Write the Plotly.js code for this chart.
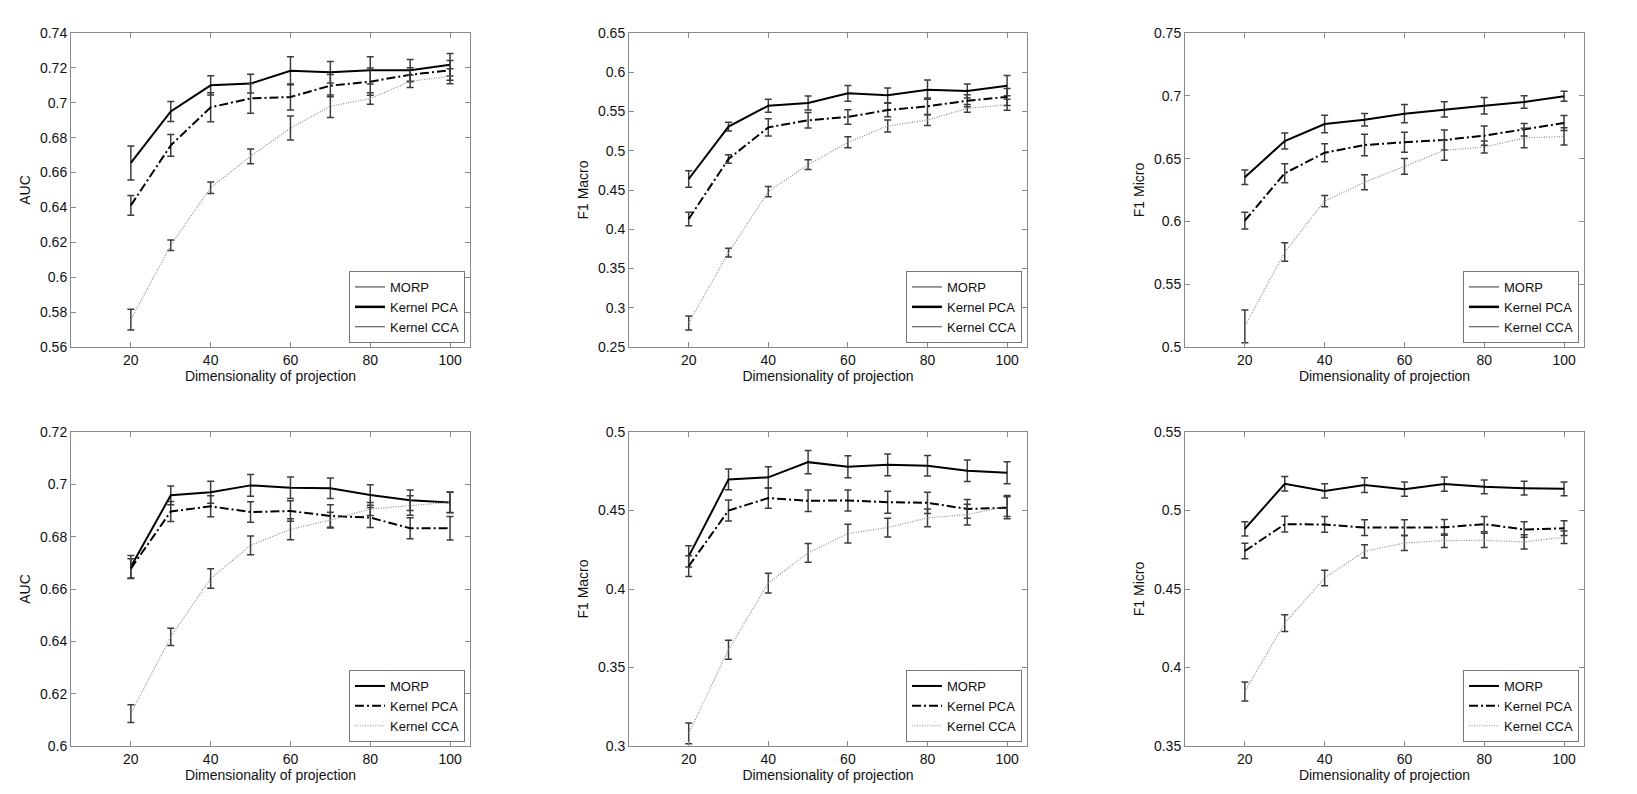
<!DOCTYPE html>
<html>
<head>
<meta charset="utf-8">
<script src="https://cdn.plot.ly/plotly-3.0.1.min.js"></script>
<style>
  html, body { margin: 0; padding: 0; background: #fff; }
  #chart { width: 1637px; height: 794px; }
</style>
</head>
<body>
<div id="chart"></div>
<script>
// x values shared by every panel
var dims = [20, 30, 40, 50, 60, 70, 80, 90, 100];
var methods = ['MORP', 'Kernel PCA', 'Kernel CCA'];

// panel 1 - AUC (top)
var p1Morp = [0.6655, 0.695, 0.710, 0.711, 0.7184, 0.7175, 0.7186, 0.7186, 0.7218];
var p1MorpErr = [0.0097, 0.0057, 0.0055, 0.0054, 0.008, 0.0062, 0.0078, 0.0062, 0.0064];
var p1Pca = [0.6412, 0.6756, 0.6974, 0.7025, 0.7033, 0.7098, 0.7121, 0.7161, 0.7186];
var p1PcaErr = [0.0057, 0.0062, 0.0083, 0.0085, 0.0074, 0.0064, 0.0078, 0.004, 0.0057];
var p1Cca = [0.5757, 0.6183, 0.6513, 0.6693, 0.6855, 0.698, 0.7024, 0.7123, 0.7152];
var p1CcaErr = [0.006, 0.003, 0.0033, 0.0042, 0.0069, 0.0064, 0.0033, 0.0036, 0.0043];

// panel 2 - F1 Macro (top)
var p2Morp = [0.464, 0.5307, 0.5574, 0.5608, 0.5731, 0.5706, 0.5778, 0.5761, 0.5829];
var p2MorpErr = [0.0106, 0.0055, 0.0083, 0.009, 0.01, 0.0093, 0.0123, 0.009, 0.0129];
var p2Pca = [0.4131, 0.4895, 0.5298, 0.5388, 0.543, 0.5519, 0.5566, 0.5638, 0.5685];
var p2PcaErr = [0.0085, 0.0053, 0.011, 0.0098, 0.0091, 0.0087, 0.0106, 0.0076, 0.0108];
var p2Cca = [0.2806, 0.3702, 0.4479, 0.4823, 0.5107, 0.5315, 0.5392, 0.554, 0.5587];
var p2CcaErr = [0.009, 0.0055, 0.0064, 0.0062, 0.007, 0.0076, 0.007, 0.005, 0.007];

// panel 3 - F1 Micro (top)
var p3Morp = [0.6351, 0.664, 0.6775, 0.681, 0.6858, 0.6892, 0.6921, 0.6951, 0.6996];
var p3MorpErr = [0.0058, 0.0064, 0.007, 0.005, 0.0072, 0.006, 0.0066, 0.005, 0.004];
var p3Pca = [0.6006, 0.6383, 0.6547, 0.6608, 0.663, 0.6648, 0.6683, 0.673, 0.6783];
var p3PcaErr = [0.0066, 0.0076, 0.0072, 0.0085, 0.008, 0.008, 0.0077, 0.005, 0.006];
var p3Cca = [0.5164, 0.5756, 0.6162, 0.6311, 0.6438, 0.6566, 0.6592, 0.6664, 0.6677];
var p3CcaErr = [0.013, 0.0074, 0.0045, 0.006, 0.0062, 0.008, 0.0048, 0.0077, 0.0068];

// panel 4 - AUC (bottom)
var p4Morp = [0.6685, 0.6958, 0.697, 0.6996, 0.6987, 0.6985, 0.6959, 0.6939, 0.6931];
var p4MorpErr = [0.0043, 0.0036, 0.0042, 0.0042, 0.0041, 0.0039, 0.0039, 0.0039, 0.0039];
var p4Pca = [0.6678, 0.6896, 0.6916, 0.6894, 0.6898, 0.6879, 0.6873, 0.6832, 0.6832];
var p4PcaErr = [0.0038, 0.0038, 0.004, 0.0039, 0.0039, 0.0043, 0.0038, 0.004, 0.0045];
var p4Cca = [0.6124, 0.6417, 0.664, 0.6767, 0.6828, 0.6863, 0.6906, 0.6919, 0.6931];
var p4CcaErr = [0.0034, 0.0033, 0.0037, 0.0036, 0.004, 0.003, 0.0025, 0.0037, 0.004];

// panel 5 - F1 Macro (bottom)
var p5Morp = [0.4208, 0.4698, 0.4711, 0.4808, 0.4779, 0.4791, 0.4785, 0.4753, 0.474];
var p5MorpErr = [0.0068, 0.0066, 0.0068, 0.0074, 0.007, 0.0069, 0.0065, 0.0069, 0.007];
var p5Pca = [0.4145, 0.45, 0.4579, 0.4562, 0.4564, 0.4553, 0.4549, 0.451, 0.4517];
var p5PcaErr = [0.0066, 0.0067, 0.0065, 0.0069, 0.0067, 0.007, 0.0068, 0.006, 0.007];
var p5Cca = [0.308, 0.3613, 0.4038, 0.423, 0.4353, 0.4391, 0.4453, 0.4474, 0.4528];
var p5CcaErr = [0.0066, 0.006, 0.0063, 0.006, 0.006, 0.006, 0.0057, 0.0066, 0.0067];

// panel 6 - F1 Micro (bottom)
var p6Morp = [0.4883, 0.517, 0.5125, 0.5162, 0.5136, 0.5168, 0.5151, 0.5142, 0.5138];
var p6MorpErr = [0.0046, 0.0046, 0.0045, 0.0047, 0.0045, 0.0046, 0.0044, 0.0044, 0.0044];
var p6Pca = [0.4742, 0.4913, 0.4911, 0.4891, 0.4891, 0.4893, 0.4913, 0.4879, 0.4887];
var p6PcaErr = [0.005, 0.005, 0.005, 0.005, 0.005, 0.005, 0.0048, 0.005, 0.0047];
var p6Cca = [0.3847, 0.4283, 0.457, 0.474, 0.4793, 0.4808, 0.481, 0.48, 0.483];
var p6CcaErr = [0.006, 0.0053, 0.005, 0.0042, 0.0048, 0.0043, 0.0045, 0.0046, 0.004];

var yTitles = ['AUC', 'F1 Macro', 'F1 Micro', 'AUC', 'F1 Macro', 'F1 Micro'];

var panels = [
  [p1Morp, p1MorpErr, p1Pca, p1PcaErr, p1Cca, p1CcaErr],
  [p2Morp, p2MorpErr, p2Pca, p2PcaErr, p2Cca, p2CcaErr],
  [p3Morp, p3MorpErr, p3Pca, p3PcaErr, p3Cca, p3CcaErr],
  [p4Morp, p4MorpErr, p4Pca, p4PcaErr, p4Cca, p4CcaErr],
  [p5Morp, p5MorpErr, p5Pca, p5PcaErr, p5Cca, p5CcaErr],
  [p6Morp, p6MorpErr, p6Pca, p6PcaErr, p6Cca, p6CcaErr]
];

// axis settings for each panel (y range, tick step)
var yAxes = [
  {range: [0.56, 0.74], dtick: 0.02},
  {range: [0.25, 0.65], dtick: 0.05},
  {range: [0.5, 0.75], dtick: 0.05},
  {range: [0.6, 0.72], dtick: 0.02},
  {range: [0.3, 0.5], dtick: 0.05},
  {range: [0.35, 0.55], dtick: 0.05}
];

// line style per method
var seriesStyle = [
  {color: '#000', width: 2, dash: 'solid'},
  {color: '#000', width: 2, dash: '9px,3px,2px,3px'},
  {color: '#8c8c8c', width: 1.2, dash: '1px,1.5px'}
];
// the top row legend in the original uses plain thin/thick solid keys
var topLegendStyle = [
  {color: '#333', width: 1, dash: 'solid'},
  {color: '#000', width: 2.5, dash: 'solid'},
  {color: '#444', width: 1, dash: 'solid'}
];

var W = 1637, H = 794;
var colsPx = [[71, 470], [629, 1027], [1185, 1584]];
var rowsPx = [[33, 347], [432, 746]];

var data = [];
var layout = {
  width: W, height: H,
  margin: {l: 0, r: 0, t: 0, b: 0},
  paper_bgcolor: '#fff', plot_bgcolor: '#fff',
  font: {family: 'Liberation Sans, Arial, sans-serif', size: 14, color: '#111'},
  showlegend: true
};

panels.forEach(function(p, i) {
  var n = i + 1;
  var sfx = n === 1 ? '' : String(n);
  var legName = n === 1 ? 'legend' : 'legend' + n;
  var col = colsPx[i % 3], row = rowsPx[Math.floor(i / 3)];
  var topRow = i < 3;

  for (var m = 0; m < 3; m++) {
    var st = seriesStyle[m];
    data.push({
      type: 'scatter', mode: 'lines',
      x: dims, y: p[m * 2],
      name: methods[m],
      xaxis: 'x' + sfx, yaxis: 'y' + sfx,
      legend: legName,
      showlegend: !topRow,
      line: {color: st.color, width: st.width, dash: st.dash},
      error_y: {type: 'data', array: p[m * 2 + 1], visible: true,
                color: '#3c3c3c', thickness: 1.5, width: 3.5}
    });
  }
  if (topRow) {
    for (var k = 0; k < 3; k++) {
      var ls = topLegendStyle[k];
      data.push({
        type: 'scatter', mode: 'lines',
        x: [null], y: [null],
        name: methods[k],
        xaxis: 'x' + sfx, yaxis: 'y' + sfx,
        legend: legName,
        line: {color: ls.color, width: ls.width, dash: ls.dash}
      });
    }
  }

  var axisCommon = {
    showline: true, linecolor: '#8a8a8a', linewidth: 1,
    mirror: 'ticks', ticks: 'inside', ticklen: 5, tickcolor: '#8a8a8a',
    showgrid: false, zeroline: false,
    tickfont: {size: 14, color: '#111'}
  };

  layout['xaxis' + sfx] = Object.assign({}, axisCommon, {
    domain: [col[0] / W, col[1] / W],
    anchor: 'y' + sfx,
    range: [5, 105], tick0: 0, dtick: 20,
    title: {text: 'Dimensionality of projection', font: {size: 14}, standoff: 2}
  });
  layout['yaxis' + sfx] = Object.assign({}, axisCommon, {
    domain: [1 - row[1] / H, 1 - row[0] / H],
    anchor: 'x' + sfx,
    range: yAxes[i].range, tick0: 0, dtick: yAxes[i].dtick,
    title: {text: yTitles[i], font: {size: 14}, standoff: 6}
  });

  layout[legName] = {
    x: (col[1] - 5) / W, xanchor: 'right',
    y: 1 - (row[1] - 4) / H, yanchor: 'bottom',
    bgcolor: '#fff', bordercolor: '#777', borderwidth: 1,
    font: {size: 13, color: '#111'},
    tracegroupgap: 0, itemwidth: 30
  };
});

Plotly.newPlot('chart', data, layout, {displayModeBar: false, staticPlot: true});
</script>
</body>
</html>
